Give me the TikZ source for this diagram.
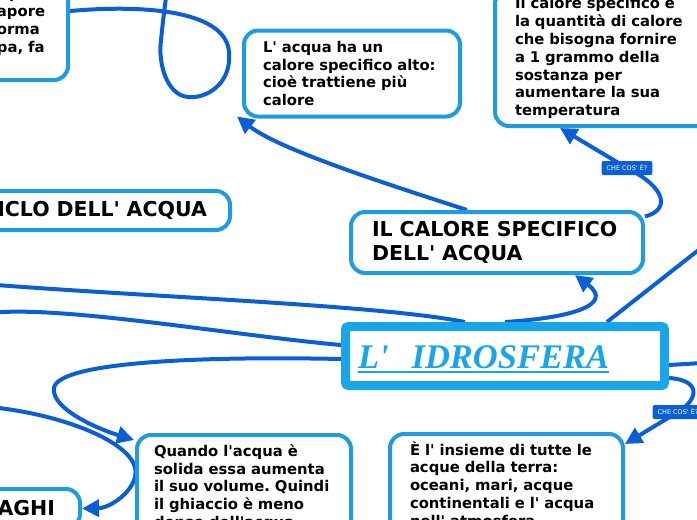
\documentclass[tikz,border=0pt]{standalone}
\usepackage{fontspec}
\setmainfont{DejaVu Sans}[Ligatures=TeXOff]
\newfontfamily\titlefont{Liberation Serif}[Ligatures=TeXOff]
\usetikzlibrary{arrows.meta,backgrounds}
\definecolor{boxblue}{RGB}{30,155,225}
\definecolor{titleblue}{RGB}{26,165,235}
\definecolor{lineblue}{RGB}{10,94,214}
\newcommand\titleline[1]{\setbox0\hbox{#1}\rlap{\rule[-5pt]{\wd0}{2pt}}\box0}
\frenchspacing

\begin{document}
\begin{tikzpicture}[x=1pt,y=-1pt,
    topic/.style={draw=boxblue,line width=4pt,rounded corners=14pt,fill=white,align=left,font=\bfseries\fontsize{14.8}{17.8}\selectfont},
    heading/.style={topic,font=\bfseries\fontsize{20.5}{24}\selectfont},
    conn/.style={draw=lineblue,line width=4pt},
    arr/.style={conn,-{Triangle[length=17pt,width=17pt]}},
    tag/.style={fill=lineblue,text=white,rounded corners=2pt,inner xsep=5pt,inner ysep=0pt,minimum height=14pt,font=\fontsize{6.5}{7}\selectfont}]
  \useasboundingbox (0,0) rectangle (697,520);

  % boxes
  \node[topic,text width=51pt,inner xsep=20pt,minimum height=114pt] (vapore) at (22.5,23) {r per\\apore\\orma\\pa, fa};
  \node[topic,text width=178pt,inner xsep=19pt,minimum height=86pt] (altoCalore) at (352,73.5) {L' acqua ha un\\calore specifico alto:\\cioè trattiene più\\calore};
  \node[topic,text width=200pt,inner xsep=20pt,minimum height=136pt] (definizione) at (615,58) {Il calore specifico è\\la quantità di calore\\che bisogna fornire\\a 1 grammo della\\sostanza per\\aumentare la sua\\temperatura};
  \node[heading,text width=224pt,inner xsep=23pt,minimum height=39pt,align=right] (ciclo) at (95,210.5) {ICLO DELL' ACQUA};
  \node[heading,text width=250pt,inner xsep=21pt,minimum height=61pt] (calore) at (497,242.5) {IL CALORE SPECIFICO\\DELL' ACQUA};
  \node[draw=titleblue,line width=9pt,rounded corners=3pt,fill=white,minimum width=319pt,minimum height=59pt,text width=294pt,align=left,inner xsep=12.5pt,text height=28pt,text depth=4pt,text=titleblue,font=\titlefont\bfseries\itshape\fontsize{34.5}{40}\selectfont] (title) at (505,356) {\titleline{L'\ \ IDROSFERA}};
  \node[topic,text width=180pt,inner xsep=17pt,minimum height=105pt] (ghiaccio) at (244,487.5) {Quando l'acqua è\\solida essa aumenta\\il suo volume. Quindi\\il ghiaccio è meno\\denso dell'acqua};
  \node[topic,text width=193pt,inner xsep=20pt,minimum height=100pt] (idrosfera) at (506.5,484) {È l' insieme di tutte le\\acque della terra:\\oceani, mari, acque\\continentali e l' acqua\\nell' atmosfera};
  \node[heading,text width=100pt,inner xsep=25pt,minimum height=39pt,align=right] (aghi) at (5,508.5) {AGHI};

  % labels
  \node[tag] (tagDef) at (627,168) {CHE COS' È?};
  \node[tag] (tagIns) at (678,412) {CHE COS' È?};

  % free ends outside the page
  \coordinate (upCiclo) at (167,-10);
  \coordinate (leftA) at (-10,284.5);
  \coordinate (leftB) at (-10,313);
  \coordinate (leftC) at (-10,407);
  \coordinate (rightA) at (710,362.5);
  \coordinate (rightB) at (710,241);

  % connectors
  \begin{scope}[on background layer]
    \draw[conn] ([yshift=12pt]vapore.east) .. controls (150,4) and (226,12) .. (229,52) .. controls (232,85) and (205,99) .. (188,97) .. controls (166,95) and (158,62) .. (161,40) .. controls (163,20) and (165,5) .. (upCiclo);
    \draw[arr] ([xshift=-30pt]calore.north) .. controls (390,185) and (280,150) .. ([xshift=-5pt,yshift=2pt]altoCalore.south west);
    \draw[arr] ([yshift=26pt]calore.east) .. controls (670,210) and (667,188) .. (tagDef.center) -- ([xshift=-55pt]definizione.south);
    \draw[arr] (title.north) .. controls (570,318) and (615,305) .. ([xshift=78pt]calore.south);
    \draw[conn] (leftA) .. controls (150,297) and (380,305) .. ([xshift=-40pt]title.north);
    \draw[conn] (leftB) .. controls (60,305) and (230,335) .. ([yshift=11pt]title.west);
    \draw[arr] ([yshift=-3pt]title.west) .. controls (200,356) and (58,362) .. (54,388) .. controls (51,408) and (95,428) .. ([xshift=-1pt,yshift=-7pt]ghiaccio.north west);
    \draw[arr] (leftC) .. controls (60,414) and (128,440) .. ([yshift=20pt]ghiaccio.west) .. controls (140,487) and (112,508) .. (aghi.east);
    \draw[conn] ([yshift=-9pt]title.east) -- (rightA);
    \draw[arr] ([yshift=-22pt]title.east) .. controls (700,380) and (700,398) .. (tagIns.center) -- ([yshift=-12pt]idrosfera.north east);
    \draw[conn] ([xshift=-62pt]title.north east) -- (rightB);
  \end{scope}
\end{tikzpicture}
\end{document}
